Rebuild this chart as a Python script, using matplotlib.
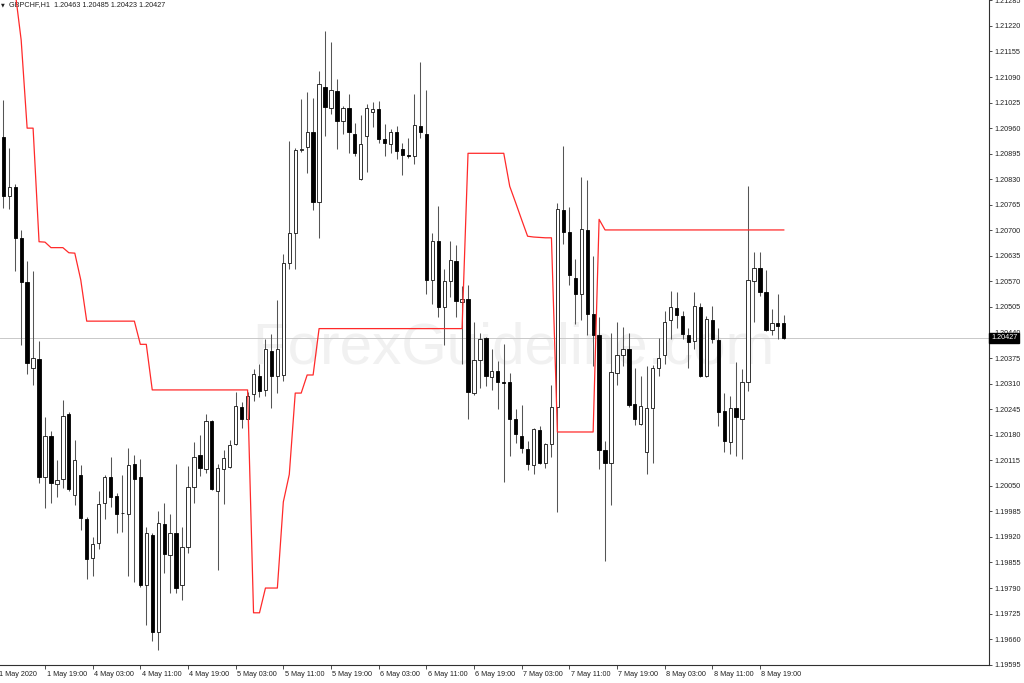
import numpy as np
import matplotlib
matplotlib.use("Agg")
import matplotlib.pyplot as plt
import matplotlib.transforms as mtransforms

# GBPCHF H1 bars, 1 May 12:00 .. 8 May 23:00
opens = [1.20937, 1.20787, 1.20810, 1.20680, 1.20568, 1.20351, 1.20373, 1.20073, 1.20177, 1.20055,
         1.20068, 1.20232, 1.20027, 1.20078, 1.19965, 1.19866, 1.19904, 1.20006, 1.20073, 1.20024,
         1.19980, 1.19978, 1.20106, 1.20072, 1.19798, 1.19925, 1.19677, 1.19953, 1.19874, 1.19929,
         1.19798, 1.19895, 1.20046, 1.20128, 1.20092, 1.20215, 1.20038, 1.20093, 1.20099, 1.20156,
         1.20250, 1.20219, 1.20284, 1.20330, 1.20294, 1.20394, 1.20329, 1.20332, 1.20618, 1.20693,
         1.20905, 1.20911, 1.20950, 1.20773, 1.21065, 1.21011, 1.21054, 1.20977, 1.21011, 1.20946,
         1.20831, 1.20941, 1.21000, 1.21008, 1.20932, 1.20920, 1.20949, 1.20906, 1.20892, 1.20889,
         1.20965, 1.20946, 1.20574, 1.20674, 1.20504, 1.20571, 1.20623, 1.20518, 1.20526, 1.20286,
         1.20370, 1.20427, 1.20327, 1.20341, 1.20313, 1.20313, 1.20219, 1.20176, 1.20143, 1.20104,
         1.20192, 1.20109, 1.20156, 1.20251, 1.20752, 1.20695, 1.20580, 1.20539, 1.20701, 1.20488,
         1.20435, 1.20140, 1.20109, 1.20337, 1.20383, 1.20397, 1.20259, 1.20208, 1.20136, 1.20248,
         1.20350, 1.20383, 1.20472, 1.20502, 1.20483, 1.20435, 1.20418, 1.20504, 1.20329, 1.20472,
         1.20420, 1.20240, 1.20162, 1.20249, 1.20221, 1.20313, 1.20571, 1.20605, 1.20542, 1.20447,
         1.20464, 1.20463]
highs = [1.21032, 1.20909, 1.20818, 1.20701, 1.20622, 1.20597, 1.20419, 1.20226, 1.20190, 1.20116,
         1.20268, 1.20237, 1.20167, 1.20103, 1.19970, 1.19920, 1.20038, 1.20078, 1.20124, 1.20031,
         1.20078, 1.20146, 1.20129, 1.20118, 1.19946, 1.19929, 1.19987, 1.20006, 1.19978, 1.20106,
         1.19946, 1.20101, 1.20162, 1.20179, 1.20232, 1.20218, 1.20106, 1.20141, 1.20167, 1.20288,
         1.20264, 1.20289, 1.20348, 1.20359, 1.20424, 1.20437, 1.20523, 1.20641, 1.20928, 1.20909,
         1.21033, 1.21051, 1.21037, 1.21105, 1.21208, 1.21178, 1.21085, 1.21017, 1.21047, 1.20973,
         1.20993, 1.21022, 1.21027, 1.21030, 1.20970, 1.20957, 1.20965, 1.20922, 1.20936, 1.21047,
         1.21127, 1.21056, 1.20693, 1.20763, 1.20602, 1.20672, 1.20663, 1.20558, 1.20562, 1.20467,
         1.20440, 1.20429, 1.20397, 1.20368, 1.20411, 1.20337, 1.20246, 1.20256, 1.20165, 1.20197,
         1.20203, 1.20159, 1.20307, 1.20769, 1.20914, 1.20760, 1.20626, 1.20835, 1.20828, 1.20634,
         1.20480, 1.20165, 1.20440, 1.20467, 1.20454, 1.20440, 1.20350, 1.20329, 1.20354, 1.20357,
         1.20427, 1.20494, 1.20545, 1.20542, 1.20494, 1.20451, 1.20544, 1.20515, 1.20483, 1.20508,
         1.20451, 1.20286, 1.20278, 1.20364, 1.20348, 1.20814, 1.20645, 1.20645, 1.20598, 1.20499,
         1.20539, 1.20485]
lows = [1.20756, 1.20754, 1.20597, 1.20408, 1.20334, 1.20307, 1.20057, 1.19994, 1.20007, 1.20022,
        1.20044, 1.20038, 1.20001, 1.19938, 1.19812, 1.19821, 1.19889, 1.19965, 1.19997, 1.19931,
        1.19933, 1.19821, 1.19805, 1.19793, 1.19696, 1.19654, 1.19632, 1.19828, 1.19777, 1.19777,
        1.19760, 1.19880, 1.20007, 1.20075, 1.20082, 1.20039, 1.19836, 1.20003, 1.20095, 1.20154,
        1.20197, 1.20197, 1.20267, 1.20275, 1.20279, 1.20249, 1.20286, 1.20316, 1.20602, 1.20602,
        1.20900, 1.20846, 1.20752, 1.20681, 1.20939, 1.20995, 1.20906, 1.20946, 1.20896, 1.20889,
        1.20829, 1.20849, 1.20963, 1.20922, 1.20889, 1.20896, 1.20882, 1.20842, 1.20885, 1.20868,
        1.20936, 1.20537, 1.20513, 1.20480, 1.20408, 1.20531, 1.20480, 1.20361, 1.20219, 1.20281,
        1.20300, 1.20303, 1.20294, 1.20246, 1.20059, 1.20127, 1.20159, 1.20133, 1.20090, 1.20081,
        1.20106, 1.20095, 1.20124, 1.19984, 1.20666, 1.20562, 1.20461, 1.20472, 1.20435, 1.20354,
        1.20092, 1.19858, 1.20000, 1.20307, 1.20354, 1.20251, 1.20205, 1.20205, 1.20081, 1.20108,
        1.20329, 1.20359, 1.20424, 1.20451, 1.20424, 1.20350, 1.20397, 1.20327, 1.20327, 1.20413,
        1.20203, 1.20135, 1.20130, 1.20127, 1.20119, 1.20292, 1.20467, 1.20534, 1.20445, 1.20435,
        1.20424, 1.20423]
closes = [1.20787, 1.20810, 1.20680, 1.20568, 1.20363, 1.20375, 1.20073, 1.20177, 1.20057, 1.20065,
          1.20228, 1.20041, 1.20116, 1.19967, 1.19863, 1.19902, 1.20003, 1.20073, 1.20021, 1.19978,
          1.19981, 1.20103, 1.20068, 1.19797, 1.19929, 1.19677, 1.19955, 1.19876, 1.19929, 1.19791,
          1.19895, 1.20048, 1.20124, 1.20095, 1.20215, 1.20041, 1.20095, 1.20120, 1.20153, 1.20254,
          1.20219, 1.20279, 1.20335, 1.20292, 1.20397, 1.20329, 1.20397, 1.20618, 1.20693, 1.20905,
          1.20907, 1.20950, 1.20771, 1.21073, 1.21014, 1.21056, 1.20977, 1.21011, 1.20950, 1.20898,
          1.20920, 1.21011, 1.21008, 1.20932, 1.20922, 1.20949, 1.20903, 1.20892, 1.20889, 1.20968,
          1.20949, 1.20574, 1.20674, 1.20504, 1.20572, 1.20625, 1.20521, 1.20526, 1.20289, 1.20370,
          1.20424, 1.20329, 1.20341, 1.20313, 1.20312, 1.20219, 1.20181, 1.20146, 1.20106, 1.20195,
          1.20109, 1.20157, 1.20251, 1.20755, 1.20695, 1.20587, 1.20539, 1.20704, 1.20488, 1.20435,
          1.20140, 1.20108, 1.20340, 1.20383, 1.20399, 1.20256, 1.20219, 1.20254, 1.20249, 1.20350,
          1.20375, 1.20467, 1.20504, 1.20485, 1.20437, 1.20415, 1.20508, 1.20329, 1.20475, 1.20424,
          1.20238, 1.20165, 1.20248, 1.20224, 1.20313, 1.20574, 1.20604, 1.20542, 1.20447, 1.20465,
          1.20456, 1.20427]

# red stop line, one value per bar
stop_line = [np.nan, np.nan, 1.21306, 1.21184, 1.20960, 1.20960, 1.20671, 1.20670, 1.20656, 1.20656,
             1.20656, 1.20643, 1.20642, 1.20574, 1.20469, 1.20469, 1.20469, 1.20469, 1.20469, 1.20469,
             1.20469, 1.20469, 1.20469, 1.20410, 1.20410, 1.20294, 1.20294, 1.20294, 1.20294, 1.20294,
             1.20294, 1.20294, 1.20294, 1.20294, 1.20294, 1.20294, 1.20294, 1.20294, 1.20294, 1.20294,
             1.20294, 1.20294, 1.19727, 1.19727, 1.19790, 1.19790, 1.19790, 1.20009, 1.20079, 1.20286,
             1.20286, 1.20332, 1.20332, 1.20450, 1.20450, 1.20450, 1.20450, 1.20450, 1.20450, 1.20450,
             1.20450, 1.20450, 1.20450, 1.20450, 1.20450, 1.20450, 1.20450, 1.20450, 1.20450, 1.20450,
             1.20450, 1.20450, 1.20450, 1.20450, 1.20450, 1.20450, 1.20450, 1.20450, 1.20896, 1.20896,
             1.20896, 1.20896, 1.20896, 1.20896, 1.20896, 1.20812, 1.20770, 1.20727, 1.20685, 1.20683,
             1.20682, 1.20681, 1.20681, 1.20187, 1.20187, 1.20187, 1.20187, 1.20187, 1.20187, 1.20187,
             1.20728, 1.20701, 1.20701, 1.20701, 1.20701, 1.20701, 1.20701, 1.20701, 1.20701, 1.20701,
             1.20701, 1.20701, 1.20701, 1.20701, 1.20701, 1.20701, 1.20701, 1.20701, 1.20701, 1.20701,
             1.20701, 1.20701, 1.20701, 1.20701, 1.20701, 1.20701, 1.20701, 1.20701, 1.20701, 1.20701,
             1.20701, 1.20701]

tick_bars = [7, 15, 23, 31, 39, 47, 55, 63, 71, 79, 87, 95, 103, 111, 119, 127]
tick_labels = ["1 May 19:00", "4 May 03:00", "4 May 11:00", "4 May 19:00", "5 May 03:00",
               "5 May 11:00", "5 May 19:00", "6 May 03:00", "6 May 11:00", "6 May 19:00",
               "7 May 03:00", "7 May 11:00", "7 May 19:00", "8 May 03:00", "8 May 11:00",
               "8 May 19:00"]
first_label = "1 May 2020"
price_ticks = [1.21285, 1.21220, 1.21155, 1.21090, 1.21025, 1.20960, 1.20895, 1.20830, 1.20765,
               1.20700, 1.20635, 1.20570, 1.20505, 1.20440, 1.20375, 1.20310, 1.20245, 1.20180,
               1.20115, 1.20050, 1.19985, 1.19920, 1.19855, 1.19790, 1.19725, 1.19660, 1.19595]
symbol = "GBPCHF,H1"
watermark = "ForexGuideline.com"

plt.rcParams['font.family'] = ['Liberation Sans', 'DejaVu Sans']

o = np.array(opens)
h = np.array(highs)
l = np.array(lows)
c = np.array(closes)
x = np.arange(len(o))
up = c >= o
last_price = c[-1]

fig = plt.figure(figsize=(10.24, 6.83), dpi=100)
ax = fig.add_axes([0, 18 / 683, 989 / 1024, 665 / 683])

# watermark
ax.text(252 / 989, 1 - 364 / 665, watermark, transform=ax.transAxes, fontsize=42,
        color='#f1f1f1', ha='left', va='baseline', zorder=0)

ax.axhline(last_price, color='#c8c8c8', lw=0.7, zorder=1)

# candles
ax.vlines(x, l, h, color='#555555', lw=0.75, zorder=2)
body_lo = np.minimum(o, c)
body_h = np.abs(c - o)
ax.bar(x[up], body_h[up], bottom=body_lo[up], width=0.55, color='white',
       edgecolor='#111111', lw=0.6, zorder=3)
ax.bar(x[~up], body_h[~up], bottom=body_lo[~up], width=0.55, color='black',
       edgecolor='black', lw=0.6, zorder=3)

ax.plot(x, stop_line, color='#ff2a2a', lw=0.9, zorder=4)

ax.set_xlim(-3.3 / 5.958, (989 - 3.3) / 5.958)
ax.set_ylim(1.195942, 1.21286)

for s in ['top', 'left']:
    ax.spines[s].set_visible(False)
for s in ['right', 'bottom']:
    ax.spines[s].set_color('#303030')
    ax.spines[s].set_linewidth(0.8)

ax.yaxis.tick_right()
ax.set_yticks(price_ticks)
ax.set_yticklabels([f"{v:.5f}" for v in price_ticks])
ax.tick_params(axis='y', direction='out', length=2.2, width=0.6, pad=1.5,
               labelsize=5.2, colors='#303030', labelcolor='#202020')

ax.set_xticks(tick_bars, tick_labels)
ax.tick_params(axis='x', direction='out', length=2.8, width=0.6, pad=1.2,
               labelsize=5.2, colors='#303030', labelcolor='#202020')
shift = mtransforms.ScaledTranslation(1.5 / 100, 0, fig.dpi_scale_trans)
for lbl in ax.get_xticklabels():
    lbl.set_ha('left')
    lbl.set_transform(lbl.get_transform() + shift)

# first date label, mostly cut by the left edge
down = mtransforms.ScaledTranslation(1.5 / 100, -(2.8 + 1.2) / 72, fig.dpi_scale_trans)
ax.text(-1, 0, first_label, transform=ax.get_xaxis_transform() + down, fontsize=5.2,
        color='#202020', ha='left', va='top', clip_on=False)

# header
ax.text(1 / 989, 1 - 5 / 665, "\u25bc", transform=ax.transAxes, fontsize=3.5,
        family='DejaVu Sans', color='#202020', va='center', ha='left')
ax.text(9 / 989, 1 - 5 / 665,
        f"{symbol}  {o[-1]:.5f} {h[-1]:.5f} {l[-1]:.5f} {c[-1]:.5f}",
        transform=ax.transAxes, fontsize=5.2, color='#202020', va='center', ha='left')

# current price box on the right scale
ax.text(1 + 2 / 989, last_price, f"{last_price:.5f}", transform=ax.get_yaxis_transform(),
        fontsize=5.2, color='white', ha='left', va='center', clip_on=False, zorder=6,
        bbox=dict(boxstyle='square,pad=0.22', fc='black', ec='black'))

fig.savefig("out.png", dpi=100, facecolor='white')
